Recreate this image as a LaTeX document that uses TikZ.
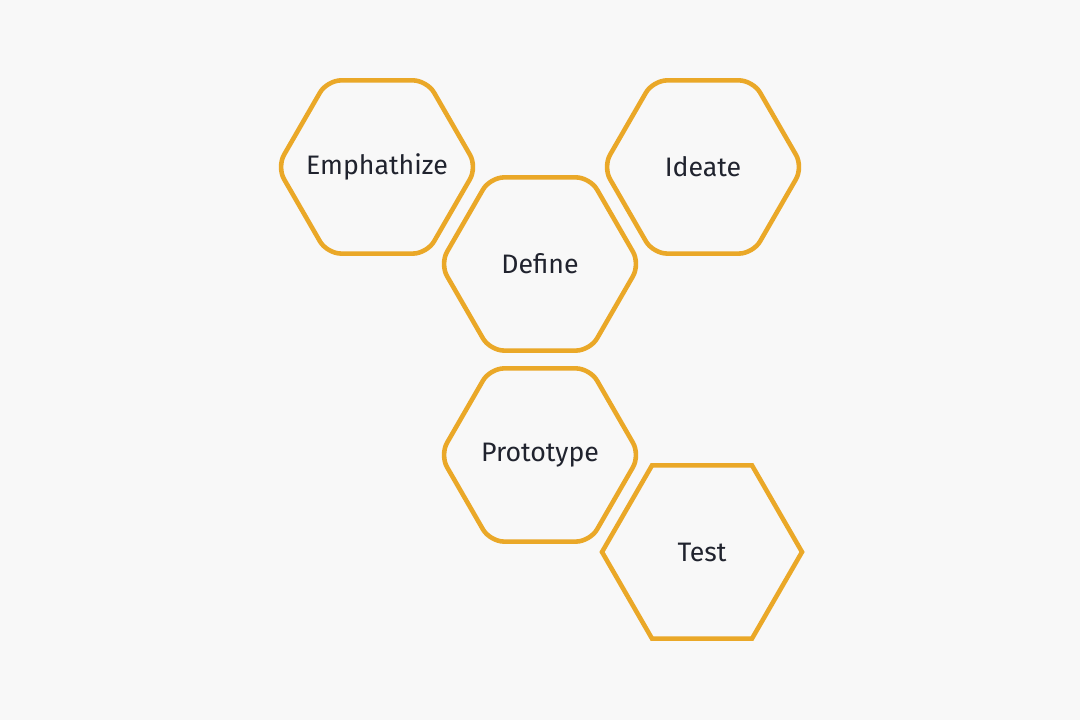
\documentclass[tikz,border=0pt]{standalone}
\usepackage{fontspec}
\setmainfont{Fira Sans}
\usetikzlibrary{shapes.geometric}
\definecolor{honey}{RGB}{234,168,40}
\definecolor{ink}{RGB}{32,35,46}
\definecolor{paper}{RGB}{248,248,248}
\begin{document}
\begin{tikzpicture}[
  cell/.style={regular polygon, regular polygon sides=6, minimum size=2.0cm,
    inner sep=0pt, draw=honey, line width=1.3pt, text=ink,
    font=\fontsize{7.6}{9}\selectfont, rounded corners=0.14cm},
  sharp/.style={sharp corners}]
  \fill[paper] (0,0) rectangle (10.8,7.2);
  \useasboundingbox (0,0) rectangle (10.8,7.2);
  \foreach \name/\x/\y/\txt in {
    emph/3.77/5.53/Emphathize, define/5.40/4.56/Define,
    ideate/7.03/5.53/Ideate, proto/5.40/2.65/Prototype} {
    \node[cell] (\name) at (\x,\y) {\makebox[0pt]{\txt}};
  }
  \node[cell, sharp] (test) at (7.02,1.68) {\makebox[0pt]{Test}};
\end{tikzpicture}
\end{document}
